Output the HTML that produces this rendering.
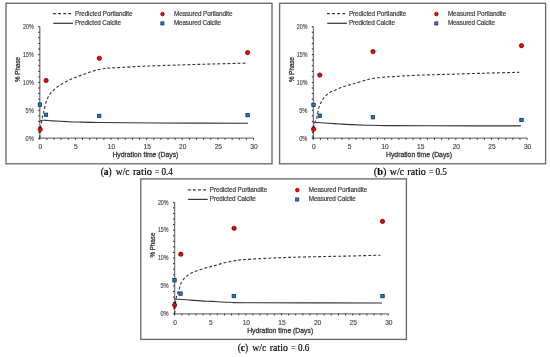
<!DOCTYPE html>
<html><head><meta charset="utf-8"><title>Figure</title>
<style>
html,body{margin:0;padding:0;background:#fff;}
body{width:550px;height:357px;overflow:hidden;}
svg{display:block;}
</style></head><body>
<svg width="550" height="357" viewBox="0 0 550 357" font-family="'Liberation Sans', Arial, sans-serif">
<style>.t{stroke:#3a3a3a;stroke-width:0.3px;}.t2{stroke:#484848;stroke-width:0.15px;}.tl{stroke:#3a3a3a;stroke-width:0.18px;}</style>
<rect width="550" height="357" fill="#fff"/>
<g transform="translate(0,0)">
<rect x="6.0" y="3.3" width="266.0" height="160.5" fill="none" stroke="#6a6a6a" stroke-width="1.35"/>
<path d="M39.8,26.7 V138.2 H253.5" fill="none" stroke="#7a7a7a" stroke-width="1.3"/>
<path d="M38.20,138.20H39.8M38.20,132.62H39.8M38.20,127.05H39.8M38.20,121.47H39.8M38.20,115.90H39.8M38.20,110.32H39.8M38.20,104.75H39.8M38.20,99.17H39.8M38.20,93.60H39.8M38.20,88.02H39.8M38.20,82.45H39.8M38.20,76.88H39.8M38.20,71.30H39.8M38.20,65.72H39.8M38.20,60.15H39.8M38.20,54.58H39.8M38.20,49.00H39.8M38.20,43.42H39.8M38.20,37.85H39.8M38.20,32.28H39.8M38.20,26.70H39.8M39.80,138.2V139.80M46.92,138.2V139.80M54.05,138.2V139.80M61.17,138.2V139.80M68.29,138.2V139.80M75.42,138.2V139.80M82.54,138.2V139.80M89.66,138.2V139.80M96.79,138.2V139.80M103.91,138.2V139.80M111.03,138.2V139.80M118.16,138.2V139.80M125.28,138.2V139.80M132.40,138.2V139.80M139.53,138.2V139.80M146.65,138.2V139.80M153.77,138.2V139.80M160.90,138.2V139.80M168.02,138.2V139.80M175.14,138.2V139.80M182.27,138.2V139.80M189.39,138.2V139.80M196.51,138.2V139.80M203.64,138.2V139.80M210.76,138.2V139.80M217.88,138.2V139.80M225.01,138.2V139.80M232.13,138.2V139.80M239.25,138.2V139.80M246.38,138.2V139.80M253.50,138.2V139.80" fill="none" stroke="#2a2a2a" stroke-width="1"/>
<text x="25.60" y="140.50" font-size="6.6" fill="#484848" class="t2" textLength="8.2" lengthAdjust="spacingAndGlyphs">0%</text>
<text x="25.60" y="112.62" font-size="6.6" fill="#484848" class="t2" textLength="8.2" lengthAdjust="spacingAndGlyphs">5%</text>
<text x="23.10" y="84.75" font-size="6.6" fill="#484848" class="t2" textLength="10.7" lengthAdjust="spacingAndGlyphs">10%</text>
<text x="23.10" y="56.88" font-size="6.6" fill="#484848" class="t2" textLength="10.7" lengthAdjust="spacingAndGlyphs">15%</text>
<text x="23.10" y="29.00" font-size="6.6" fill="#484848" class="t2" textLength="10.7" lengthAdjust="spacingAndGlyphs">20%</text>
<text x="40.30" y="149.00" text-anchor="middle" font-size="6.6" fill="#484848" class="t2">0</text>
<text x="75.92" y="149.00" text-anchor="middle" font-size="6.6" fill="#484848" class="t2">5</text>
<text x="111.53" y="149.00" text-anchor="middle" font-size="6.6" fill="#484848" class="t2">10</text>
<text x="147.15" y="149.00" text-anchor="middle" font-size="6.6" fill="#484848" class="t2">15</text>
<text x="182.77" y="149.00" text-anchor="middle" font-size="6.6" fill="#484848" class="t2">20</text>
<text x="218.38" y="149.00" text-anchor="middle" font-size="6.6" fill="#484848" class="t2">25</text>
<text x="254.00" y="149.00" text-anchor="middle" font-size="6.6" fill="#484848" class="t2">30</text>
<text y="0" transform="translate(19.9,69.4) rotate(-90)" x="-12.6" font-size="6.7" fill="#3a3a3a" class="t" textLength="25.0" lengthAdjust="spacingAndGlyphs">% Phase</text>
<text x="112.4" y="157.2" font-size="6.9" fill="#3a3a3a" class="t" textLength="66" lengthAdjust="spacingAndGlyphs">Hydration time (Days)</text>
<g transform="translate(0,0)">
<path d="M53.1,13.7H71.4" stroke="#333" stroke-width="1.2" stroke-dasharray="2.8,2.3"/>
<path d="M53.3,23.3H72.9" stroke="#333" stroke-width="1.2"/>
<text x="75" y="15.8" font-size="6.3" fill="#3a3a3a" class="tl" textLength="57.4" lengthAdjust="spacing">Predicted Portlandite</text>
<text x="75" y="25.2" font-size="6.3" fill="#3a3a3a" class="tl" textLength="46" lengthAdjust="spacing">Predicted Calcite</text>
<circle cx="162.5" cy="14" r="1.85" fill="#ff0000" stroke="#300000" stroke-width="0.6"/>
<rect x="160.8" y="21.8" width="3.2" height="3.2" fill="#1a7fd8" stroke="#0c1a3a" stroke-width="0.6"/>
<text x="174" y="15.8" font-size="6.3" fill="#3a3a3a" class="tl" textLength="58.4" lengthAdjust="spacing">Measured Portlandite</text>
<text x="174" y="25.2" font-size="6.3" fill="#3a3a3a" class="tl" textLength="47" lengthAdjust="spacing">Measured Calcite</text>
</g>
<g transform="translate(0.00,0)">
<path d="M39.80,121.20C40.23,121.05 41.37,120.43 42.40,120.30C43.43,120.17 44.32,120.30 46.00,120.40C47.68,120.50 48.98,120.70 52.50,120.90C56.02,121.10 62.85,121.42 67.10,121.60C71.35,121.78 72.52,121.85 78.00,122.00C83.48,122.15 87.00,122.33 100.00,122.50C113.00,122.67 131.33,122.88 156.00,123.00C180.67,123.12 232.67,123.17 248.00,123.20" fill="none" stroke="#333" stroke-width="1.1"/>
<path d="M39.80,138.20C39.88,137.00 40.12,133.20 40.30,131.00C40.48,128.80 40.70,126.50 40.90,125.00C41.10,123.50 41.27,123.23 41.50,122.00C41.73,120.77 42.02,119.03 42.30,117.60C42.58,116.17 42.88,114.73 43.20,113.40C43.52,112.07 43.77,111.35 44.20,109.60C44.63,107.85 45.15,104.95 45.80,102.90C46.45,100.85 47.25,98.98 48.10,97.30C48.95,95.62 49.78,94.20 50.90,92.80C52.02,91.40 53.40,90.12 54.80,88.90C56.20,87.68 57.62,86.62 59.30,85.50C60.98,84.38 63.03,83.22 64.90,82.20C66.77,81.18 68.90,80.13 70.50,79.40C72.10,78.67 73.03,78.38 74.50,77.80C75.97,77.22 77.72,76.50 79.30,75.90C80.88,75.30 82.43,74.77 84.00,74.20C85.57,73.63 87.12,73.05 88.70,72.50C90.28,71.95 91.87,71.38 93.50,70.90C95.13,70.42 96.87,69.97 98.50,69.60C100.13,69.23 101.72,68.95 103.30,68.70C104.88,68.45 104.92,68.32 108.00,68.10C111.08,67.88 115.87,67.72 121.80,67.40C127.73,67.08 134.18,66.60 143.60,66.20C153.02,65.80 166.83,65.37 178.30,65.00C189.77,64.63 200.87,64.32 212.40,64.00C223.93,63.68 241.65,63.25 247.50,63.10" fill="none" stroke="#333" stroke-width="1.1" stroke-dasharray="2.9,2.1"/>
<rect x="38.20" y="102.90" width="3.4" height="3.4" fill="#1a7fd8" stroke="#0c1a3a" stroke-width="0.7"/>
<rect x="44.30" y="113.10" width="3.4" height="3.4" fill="#1a7fd8" stroke="#0c1a3a" stroke-width="0.7"/>
<rect x="97.50" y="114.20" width="3.4" height="3.4" fill="#1a7fd8" stroke="#0c1a3a" stroke-width="0.7"/>
<rect x="245.90" y="113.40" width="3.4" height="3.4" fill="#1a7fd8" stroke="#0c1a3a" stroke-width="0.7"/>
<circle cx="40.20" cy="129.40" r="2.15" fill="#ff0000" stroke="#300000" stroke-width="0.7"/>
<circle cx="46.10" cy="80.50" r="2.15" fill="#ff0000" stroke="#300000" stroke-width="0.7"/>
<circle cx="99.30" cy="58.30" r="2.15" fill="#ff0000" stroke="#300000" stroke-width="0.7"/>
<circle cx="247.60" cy="52.60" r="2.15" fill="#ff0000" stroke="#300000" stroke-width="0.7"/>
</g>
</g>
<text x="100.67" y="174.9" font-family="'Liberation Serif', 'Times New Roman', serif" font-size="9.4" fill="#000" stroke="#000" stroke-width="0.15" textLength="11.02" lengthAdjust="spacingAndGlyphs">(<tspan font-weight="bold">a</tspan>)</text>
<text x="115.85" y="174.9" font-family="'Liberation Serif', 'Times New Roman', serif" font-size="9.4" fill="#000" stroke="#000" stroke-width="0.15" textLength="13.6" lengthAdjust="spacingAndGlyphs">w/c</text>
<text x="132.91" y="174.9" font-family="'Liberation Serif', 'Times New Roman', serif" font-size="9.4" fill="#000" stroke="#000" stroke-width="0.15" textLength="19.09" lengthAdjust="spacingAndGlyphs">ratio</text>
<text x="154.63" y="174.9" font-family="'Liberation Serif', 'Times New Roman', serif" font-size="9.4" fill="#000" stroke="#000" stroke-width="0.15" textLength="4.48" lengthAdjust="spacingAndGlyphs">=</text>
<text x="161.49" y="174.9" font-family="'Liberation Serif', 'Times New Roman', serif" font-size="9.4" fill="#000" stroke="#000" stroke-width="0.15" textLength="11.25" lengthAdjust="spacingAndGlyphs">0.4</text>
<g transform="translate(273.6,0)">
<rect x="6.0" y="3.3" width="266.0" height="160.5" fill="none" stroke="#6a6a6a" stroke-width="1.35"/>
<path d="M39.8,26.7 V138.2 H253.5" fill="none" stroke="#7a7a7a" stroke-width="1.3"/>
<path d="M38.20,138.20H39.8M38.20,132.62H39.8M38.20,127.05H39.8M38.20,121.47H39.8M38.20,115.90H39.8M38.20,110.32H39.8M38.20,104.75H39.8M38.20,99.17H39.8M38.20,93.60H39.8M38.20,88.02H39.8M38.20,82.45H39.8M38.20,76.88H39.8M38.20,71.30H39.8M38.20,65.72H39.8M38.20,60.15H39.8M38.20,54.58H39.8M38.20,49.00H39.8M38.20,43.42H39.8M38.20,37.85H39.8M38.20,32.28H39.8M38.20,26.70H39.8M39.80,138.2V139.80M46.92,138.2V139.80M54.05,138.2V139.80M61.17,138.2V139.80M68.29,138.2V139.80M75.42,138.2V139.80M82.54,138.2V139.80M89.66,138.2V139.80M96.79,138.2V139.80M103.91,138.2V139.80M111.03,138.2V139.80M118.16,138.2V139.80M125.28,138.2V139.80M132.40,138.2V139.80M139.53,138.2V139.80M146.65,138.2V139.80M153.77,138.2V139.80M160.90,138.2V139.80M168.02,138.2V139.80M175.14,138.2V139.80M182.27,138.2V139.80M189.39,138.2V139.80M196.51,138.2V139.80M203.64,138.2V139.80M210.76,138.2V139.80M217.88,138.2V139.80M225.01,138.2V139.80M232.13,138.2V139.80M239.25,138.2V139.80M246.38,138.2V139.80M253.50,138.2V139.80" fill="none" stroke="#2a2a2a" stroke-width="1"/>
<text x="25.60" y="140.50" font-size="6.6" fill="#484848" class="t2" textLength="8.2" lengthAdjust="spacingAndGlyphs">0%</text>
<text x="25.60" y="112.62" font-size="6.6" fill="#484848" class="t2" textLength="8.2" lengthAdjust="spacingAndGlyphs">5%</text>
<text x="23.10" y="84.75" font-size="6.6" fill="#484848" class="t2" textLength="10.7" lengthAdjust="spacingAndGlyphs">10%</text>
<text x="23.10" y="56.88" font-size="6.6" fill="#484848" class="t2" textLength="10.7" lengthAdjust="spacingAndGlyphs">15%</text>
<text x="23.10" y="29.00" font-size="6.6" fill="#484848" class="t2" textLength="10.7" lengthAdjust="spacingAndGlyphs">20%</text>
<text x="40.30" y="149.00" text-anchor="middle" font-size="6.6" fill="#484848" class="t2">0</text>
<text x="75.92" y="149.00" text-anchor="middle" font-size="6.6" fill="#484848" class="t2">5</text>
<text x="111.53" y="149.00" text-anchor="middle" font-size="6.6" fill="#484848" class="t2">10</text>
<text x="147.15" y="149.00" text-anchor="middle" font-size="6.6" fill="#484848" class="t2">15</text>
<text x="182.77" y="149.00" text-anchor="middle" font-size="6.6" fill="#484848" class="t2">20</text>
<text x="218.38" y="149.00" text-anchor="middle" font-size="6.6" fill="#484848" class="t2">25</text>
<text x="254.00" y="149.00" text-anchor="middle" font-size="6.6" fill="#484848" class="t2">30</text>
<text y="0" transform="translate(19.9,69.4) rotate(-90)" x="-12.6" font-size="6.7" fill="#3a3a3a" class="t" textLength="25.0" lengthAdjust="spacingAndGlyphs">% Phase</text>
<text x="112.4" y="157.2" font-size="6.9" fill="#3a3a3a" class="t" textLength="66" lengthAdjust="spacingAndGlyphs">Hydration time (Days)</text>
<g transform="translate(0.3,0)">
<path d="M53.1,13.7H71.4" stroke="#333" stroke-width="1.2" stroke-dasharray="2.8,2.3"/>
<path d="M53.3,23.3H72.9" stroke="#333" stroke-width="1.2"/>
<text x="75" y="15.8" font-size="6.3" fill="#3a3a3a" class="tl" textLength="57.4" lengthAdjust="spacing">Predicted Portlandite</text>
<text x="75" y="25.2" font-size="6.3" fill="#3a3a3a" class="tl" textLength="46" lengthAdjust="spacing">Predicted Calcite</text>
<circle cx="162.5" cy="14" r="1.85" fill="#ff0000" stroke="#300000" stroke-width="0.6"/>
<rect x="160.8" y="21.8" width="3.2" height="3.2" fill="#1a7fd8" stroke="#0c1a3a" stroke-width="0.6"/>
<text x="174" y="15.8" font-size="6.3" fill="#3a3a3a" class="tl" textLength="58.4" lengthAdjust="spacing">Measured Portlandite</text>
<text x="174" y="25.2" font-size="6.3" fill="#3a3a3a" class="tl" textLength="47" lengthAdjust="spacing">Measured Calcite</text>
</g>
<g transform="translate(-0.40,0)">
<path d="M40.30,122.90C41.10,122.83 42.48,122.43 45.10,122.50C47.72,122.57 52.37,123.05 56.00,123.30C59.63,123.55 63.27,123.78 66.90,124.00C70.53,124.22 73.18,124.40 77.80,124.60C82.42,124.80 88.53,125.03 94.60,125.20C100.67,125.37 103.85,125.50 114.20,125.60C124.55,125.70 134.45,125.75 156.70,125.80C178.95,125.85 232.53,125.88 247.70,125.90" fill="none" stroke="#333" stroke-width="1.1"/>
<path d="M39.80,138.20C39.88,137.00 40.10,133.20 40.30,131.00C40.50,128.80 40.68,126.67 41.00,125.00C41.32,123.33 41.73,122.33 42.20,121.00C42.67,119.67 43.25,119.13 43.80,117.00C44.35,114.87 44.83,110.63 45.50,108.20C46.17,105.77 46.95,104.12 47.80,102.40C48.65,100.68 49.58,99.20 50.60,97.90C51.62,96.60 52.70,95.62 53.90,94.60C55.10,93.58 56.40,92.58 57.80,91.80C59.20,91.02 60.62,90.60 62.30,89.90C63.98,89.20 66.03,88.32 67.90,87.60C69.77,86.88 71.82,86.12 73.50,85.60C75.18,85.08 76.67,84.85 78.00,84.50C79.33,84.15 79.28,84.17 81.50,83.50C83.72,82.83 88.08,81.38 91.30,80.50C94.52,79.62 97.52,78.77 100.80,78.20C104.08,77.63 107.70,77.37 111.00,77.10C114.30,76.83 115.37,76.90 120.60,76.60C125.83,76.30 133.18,75.68 142.40,75.30C151.62,74.92 164.43,74.65 175.90,74.30C187.37,73.95 199.50,73.53 211.20,73.20C222.90,72.87 240.28,72.45 246.10,72.30" fill="none" stroke="#333" stroke-width="1.1" stroke-dasharray="2.9,2.1"/>
<rect x="38.60" y="103.20" width="3.4" height="3.4" fill="#1a7fd8" stroke="#0c1a3a" stroke-width="0.7"/>
<rect x="44.90" y="114.00" width="3.4" height="3.4" fill="#1a7fd8" stroke="#0c1a3a" stroke-width="0.7"/>
<rect x="98.00" y="115.50" width="3.4" height="3.4" fill="#1a7fd8" stroke="#0c1a3a" stroke-width="0.7"/>
<rect x="246.60" y="118.30" width="3.4" height="3.4" fill="#1a7fd8" stroke="#0c1a3a" stroke-width="0.7"/>
<circle cx="40.40" cy="129.20" r="2.15" fill="#ff0000" stroke="#300000" stroke-width="0.7"/>
<circle cx="46.60" cy="75.10" r="2.15" fill="#ff0000" stroke="#300000" stroke-width="0.7"/>
<circle cx="99.80" cy="51.60" r="2.15" fill="#ff0000" stroke="#300000" stroke-width="0.7"/>
<circle cx="248.30" cy="45.70" r="2.15" fill="#ff0000" stroke="#300000" stroke-width="0.7"/>
</g>
</g>
<text x="373.73" y="174.9" font-family="'Liberation Serif', 'Times New Roman', serif" font-size="9.4" fill="#000" stroke="#000" stroke-width="0.15" textLength="12.7" lengthAdjust="spacingAndGlyphs">(<tspan font-weight="bold">b</tspan>)</text>
<text x="389.75" y="174.9" font-family="'Liberation Serif', 'Times New Roman', serif" font-size="9.4" fill="#000" stroke="#000" stroke-width="0.15" textLength="14.31" lengthAdjust="spacingAndGlyphs">w/c</text>
<text x="407.31" y="174.9" font-family="'Liberation Serif', 'Times New Roman', serif" font-size="9.4" fill="#000" stroke="#000" stroke-width="0.15" textLength="18.68" lengthAdjust="spacingAndGlyphs">ratio</text>
<text x="428.93" y="174.9" font-family="'Liberation Serif', 'Times New Roman', serif" font-size="9.4" fill="#000" stroke="#000" stroke-width="0.15" textLength="4.48" lengthAdjust="spacingAndGlyphs">=</text>
<text x="435.48" y="174.9" font-family="'Liberation Serif', 'Times New Roman', serif" font-size="9.4" fill="#000" stroke="#000" stroke-width="0.15" textLength="11.51" lengthAdjust="spacingAndGlyphs">0.5</text>
<g transform="translate(134.8,175.6)">
<rect x="6.0" y="3.3" width="265.6" height="160.5" fill="none" stroke="#6a6a6a" stroke-width="1.35"/>
<path d="M39.8,26.7 V138.2 H253.5" fill="none" stroke="#7a7a7a" stroke-width="1.3"/>
<path d="M38.20,138.20H39.8M38.20,132.62H39.8M38.20,127.05H39.8M38.20,121.47H39.8M38.20,115.90H39.8M38.20,110.32H39.8M38.20,104.75H39.8M38.20,99.17H39.8M38.20,93.60H39.8M38.20,88.02H39.8M38.20,82.45H39.8M38.20,76.88H39.8M38.20,71.30H39.8M38.20,65.72H39.8M38.20,60.15H39.8M38.20,54.58H39.8M38.20,49.00H39.8M38.20,43.42H39.8M38.20,37.85H39.8M38.20,32.28H39.8M38.20,26.70H39.8M39.80,138.2V139.80M46.92,138.2V139.80M54.05,138.2V139.80M61.17,138.2V139.80M68.29,138.2V139.80M75.42,138.2V139.80M82.54,138.2V139.80M89.66,138.2V139.80M96.79,138.2V139.80M103.91,138.2V139.80M111.03,138.2V139.80M118.16,138.2V139.80M125.28,138.2V139.80M132.40,138.2V139.80M139.53,138.2V139.80M146.65,138.2V139.80M153.77,138.2V139.80M160.90,138.2V139.80M168.02,138.2V139.80M175.14,138.2V139.80M182.27,138.2V139.80M189.39,138.2V139.80M196.51,138.2V139.80M203.64,138.2V139.80M210.76,138.2V139.80M217.88,138.2V139.80M225.01,138.2V139.80M232.13,138.2V139.80M239.25,138.2V139.80M246.38,138.2V139.80M253.50,138.2V139.80" fill="none" stroke="#2a2a2a" stroke-width="1"/>
<text x="25.60" y="140.50" font-size="6.6" fill="#484848" class="t2" textLength="8.2" lengthAdjust="spacingAndGlyphs">0%</text>
<text x="25.60" y="112.62" font-size="6.6" fill="#484848" class="t2" textLength="8.2" lengthAdjust="spacingAndGlyphs">5%</text>
<text x="23.10" y="84.75" font-size="6.6" fill="#484848" class="t2" textLength="10.7" lengthAdjust="spacingAndGlyphs">10%</text>
<text x="23.10" y="56.88" font-size="6.6" fill="#484848" class="t2" textLength="10.7" lengthAdjust="spacingAndGlyphs">15%</text>
<text x="23.10" y="29.00" font-size="6.6" fill="#484848" class="t2" textLength="10.7" lengthAdjust="spacingAndGlyphs">20%</text>
<text x="40.30" y="149.00" text-anchor="middle" font-size="6.6" fill="#484848" class="t2">0</text>
<text x="75.92" y="149.00" text-anchor="middle" font-size="6.6" fill="#484848" class="t2">5</text>
<text x="111.53" y="149.00" text-anchor="middle" font-size="6.6" fill="#484848" class="t2">10</text>
<text x="147.15" y="149.00" text-anchor="middle" font-size="6.6" fill="#484848" class="t2">15</text>
<text x="182.77" y="149.00" text-anchor="middle" font-size="6.6" fill="#484848" class="t2">20</text>
<text x="218.38" y="149.00" text-anchor="middle" font-size="6.6" fill="#484848" class="t2">25</text>
<text x="254.00" y="149.00" text-anchor="middle" font-size="6.6" fill="#484848" class="t2">30</text>
<text y="0" transform="translate(19.9,69.4) rotate(-90)" x="-12.6" font-size="6.7" fill="#3a3a3a" class="t" textLength="25.0" lengthAdjust="spacingAndGlyphs">% Phase</text>
<text x="112.4" y="157.2" font-size="6.9" fill="#3a3a3a" class="t" textLength="66" lengthAdjust="spacingAndGlyphs">Hydration time (Days)</text>
<g transform="translate(0,0.5)">
<path d="M53.1,13.7H71.4" stroke="#333" stroke-width="1.2" stroke-dasharray="2.8,2.3"/>
<path d="M53.3,23.3H72.9" stroke="#333" stroke-width="1.2"/>
<text x="75" y="15.8" font-size="6.3" fill="#3a3a3a" class="tl" textLength="57.4" lengthAdjust="spacing">Predicted Portlandite</text>
<text x="75" y="25.2" font-size="6.3" fill="#3a3a3a" class="tl" textLength="46" lengthAdjust="spacing">Predicted Calcite</text>
<circle cx="162.5" cy="14" r="1.85" fill="#ff0000" stroke="#300000" stroke-width="0.6"/>
<rect x="160.8" y="21.8" width="3.2" height="3.2" fill="#1a7fd8" stroke="#0c1a3a" stroke-width="0.6"/>
<text x="174" y="15.8" font-size="6.3" fill="#3a3a3a" class="tl" textLength="58.4" lengthAdjust="spacing">Measured Portlandite</text>
<text x="174" y="25.2" font-size="6.3" fill="#3a3a3a" class="tl" textLength="47" lengthAdjust="spacing">Measured Calcite</text>
</g>
<g transform="translate(0.00,0)">
<path d="M39.70,123.70C40.50,123.70 41.88,123.57 44.50,123.70C47.12,123.83 51.77,124.23 55.40,124.50C59.03,124.77 62.67,125.08 66.30,125.30C69.93,125.52 72.42,125.57 77.20,125.80C81.98,126.03 88.77,126.48 95.00,126.70C101.23,126.92 89.23,126.98 114.60,127.10C139.97,127.22 225.10,127.35 247.20,127.40" fill="none" stroke="#333" stroke-width="1.1"/>
<path d="M39.80,138.20C39.88,137.00 40.10,133.20 40.30,131.00C40.50,128.80 40.72,126.83 41.00,125.00C41.28,123.17 41.63,121.42 42.00,120.00C42.37,118.58 42.80,117.57 43.20,116.50C43.60,115.43 44.02,114.83 44.40,113.60C44.78,112.37 44.95,110.50 45.50,109.10C46.05,107.70 46.87,106.42 47.70,105.20C48.53,103.98 49.47,102.83 50.50,101.80C51.53,100.77 52.68,99.83 53.90,99.00C55.12,98.17 56.40,97.45 57.80,96.80C59.20,96.15 60.72,95.67 62.30,95.10C63.88,94.53 65.62,93.93 67.30,93.40C68.98,92.87 70.93,92.30 72.40,91.90C73.87,91.50 74.70,91.35 76.10,91.00C77.50,90.65 79.22,90.25 80.80,89.80C82.38,89.35 83.95,88.78 85.60,88.30C87.25,87.82 89.07,87.30 90.70,86.90C92.33,86.50 93.77,86.22 95.40,85.90C97.03,85.58 98.87,85.27 100.50,85.00C102.13,84.73 103.57,84.48 105.20,84.30C106.83,84.12 104.45,84.23 110.30,83.90C116.15,83.57 130.02,82.73 140.30,82.30C150.58,81.87 160.12,81.60 172.00,81.30C183.88,81.00 199.32,80.78 211.60,80.50C223.88,80.22 240.02,79.75 245.70,79.60" fill="none" stroke="#333" stroke-width="1.1" stroke-dasharray="2.9,2.1"/>
<rect x="38.00" y="103.00" width="3.4" height="3.4" fill="#1a7fd8" stroke="#0c1a3a" stroke-width="0.7"/>
<rect x="44.00" y="116.30" width="3.4" height="3.4" fill="#1a7fd8" stroke="#0c1a3a" stroke-width="0.7"/>
<rect x="97.30" y="118.70" width="3.4" height="3.4" fill="#1a7fd8" stroke="#0c1a3a" stroke-width="0.7"/>
<rect x="246.00" y="118.80" width="3.4" height="3.4" fill="#1a7fd8" stroke="#0c1a3a" stroke-width="0.7"/>
<circle cx="39.80" cy="129.50" r="2.15" fill="#ff0000" stroke="#300000" stroke-width="0.7"/>
<circle cx="46.00" cy="78.60" r="2.15" fill="#ff0000" stroke="#300000" stroke-width="0.7"/>
<circle cx="99.30" cy="52.70" r="2.15" fill="#ff0000" stroke="#300000" stroke-width="0.7"/>
<circle cx="247.70" cy="45.80" r="2.15" fill="#ff0000" stroke="#300000" stroke-width="0.7"/>
</g>
</g>
<text x="237.67" y="350.9" font-family="'Liberation Serif', 'Times New Roman', serif" font-size="9.4" fill="#000" stroke="#000" stroke-width="0.15" textLength="10.5" lengthAdjust="spacingAndGlyphs">(<tspan font-weight="bold">c</tspan>)</text>
<text x="252.25" y="350.9" font-family="'Liberation Serif', 'Times New Roman', serif" font-size="9.4" fill="#000" stroke="#000" stroke-width="0.15" textLength="14.11" lengthAdjust="spacingAndGlyphs">w/c</text>
<text x="269.82" y="350.9" font-family="'Liberation Serif', 'Times New Roman', serif" font-size="9.4" fill="#000" stroke="#000" stroke-width="0.15" textLength="18.16" lengthAdjust="spacingAndGlyphs">ratio</text>
<text x="291.0" y="350.9" font-family="'Liberation Serif', 'Times New Roman', serif" font-size="9.4" fill="#000" stroke="#000" stroke-width="0.15" textLength="4.72" lengthAdjust="spacingAndGlyphs">=</text>
<text x="297.89" y="350.9" font-family="'Liberation Serif', 'Times New Roman', serif" font-size="9.4" fill="#000" stroke="#000" stroke-width="0.15" textLength="11.38" lengthAdjust="spacingAndGlyphs">0.6</text>
</svg>
</body></html>
